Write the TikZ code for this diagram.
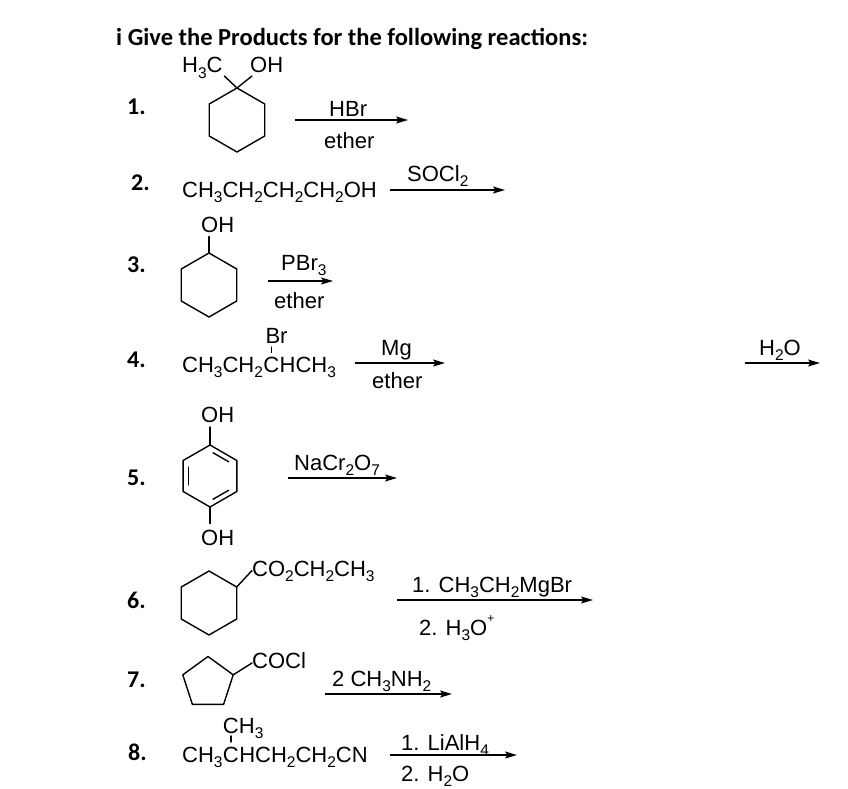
\documentclass[tikz,border=0pt]{standalone}
\usepackage{fontspec}
\setmainfont{Liberation Sans}
\newfontfamily\numfont{Carlito}
\usetikzlibrary{arrows.meta}
\newcommand\sbs[1]{\raisebox{-0.25em}{\fontsize{15.5}{15.5}\selectfont #1}}
\newcommand\sps[1]{\raisebox{0.55em}{\fontsize{12}{12}\selectfont #1}}
\tikzset{
  chem/.style={font=\fontsize{22}{24}\selectfont, inner sep=0pt, anchor=base west},
  num/.style={font=\numfont\bfseries\fontsize{24}{26}\selectfont, inner sep=0pt, anchor=base west},
  ttl/.style={font=\numfont\bfseries\fontsize{24.5}{26}\selectfont, inner sep=0pt, anchor=base west},
  bond/.style={line width=1.4pt, line join=round, line cap=round},
  rxn/.style={line width=1.6pt, -{Stealth[length=12pt,width=7pt,inset=2.5pt]}}
}
\begin{document}
\begin{tikzpicture}[x=1pt,y=-1pt]
\useasboundingbox (0,0) rectangle (848,789);
\fill[white] (0,0) rectangle (848,789);

% title
\node[ttl] (title) at (116,46) {i Give the Products for the following reactions:};

% numbers
\node[num] (n1) at (127,115) {1.};
\node[num] (n2) at (131,190) {2.};
\node[num] (n3) at (127,272) {3.};
\node[num] (n4) at (127,367) {4.};
\node[num] (n5) at (127,485) {5.};
\node[num] (n6) at (127,608) {6.};
\node[num] (n7) at (127,687) {7.};
\node[num] (n8) at (128,760) {8.};

% ---------- 1 ----------
\begin{scope}[shift={(237,120)}]
  \draw[bond] (-90:32)--(-30:32)--(30:32)--(90:32)--(150:32)--(210:32)--cycle;
  \coordinate (r1top) at (-90:32);
\end{scope}
\node[chem] (h3c) at (182,73) {H\sbs{3}C};
\node[chem] (oh1) at (250,73) {OH};
\coordinate (h3cb) at ([xshift=1.5pt,yshift=-3pt]h3c.base east);
\coordinate (oh1b) at ([xshift=2pt,yshift=-3pt]oh1.base west);
\draw[bond] (r1top) -- (h3cb);
\draw[bond] (r1top) -- (oh1b);
\coordinate (a1s) at (295,120);
\coordinate (a1e) at (408,120);
\draw[rxn] (a1s) -- (a1e);
\node[chem] (hbr) at (329,117) {HBr};
\node[chem] (eth1) at (324,148) {ether};

% ---------- 2 ----------
\node[chem] (c2) at (182,197) {CH\sbs3CH\sbs2CH\sbs2CH\sbs2OH};
\coordinate (a2s) at (390,190);
\coordinate (a2e) at (505,190);
\draw[rxn] (a2s) -- (a2e);
\node[chem] (socl) at (407,181) {SOCl\sbs2};

% ---------- 3 ----------
\begin{scope}[shift={(209,285)}]
  \draw[bond] (-90:32)--(-30:32)--(30:32)--(90:32)--(150:32)--(210:32)--cycle;
  \coordinate (r3top) at (-90:32);
\end{scope}
\node[chem] (oh3) at (201,232) {OH};
\coordinate (oh3b) at ([yshift=-4.5pt]oh3.base);
\draw[bond] (r3top) -- (r3top |- oh3b);
\coordinate (a3s) at (268,281);
\coordinate (a3e) at (333,281);
\draw[rxn] (a3s) -- (a3e);
\node[chem] (pbr) at (281,270) {PBr\sbs3};
\node[chem] (eth3) at (274,308) {ether};

% ---------- 4 ----------
\node[chem] (c4a) at (182,372) {CH\sbs3CH\sbs2};
\node[chem] (c4b) at (c4a.base east) {C};
\node[chem] (c4c) at (c4b.base east) {HCH\sbs3};
\node[chem] (br4) at ([xshift=-6pt,yshift=29pt]c4b.base) {Br};
\coordinate (b4lo) at ([yshift=4pt]c4b.north);
\coordinate (b4hi) at ([yshift=-4pt]br4.base);
\draw[bond] (b4lo) -- (b4lo |- b4hi);
\coordinate (a4s) at (355,363);
\coordinate (a4e) at (445,363);
\draw[rxn] (a4s) -- (a4e);
\node[chem] (mg) at (381,355) {Mg};
\node[chem] (eth4) at (372,388) {ether};
\coordinate (a4bs) at (745,363);
\coordinate (a4be) at (820,363);
\draw[rxn] (a4bs) -- (a4be);
\node[chem] (h2o4) at (759,355) {H\sbs2O};

% ---------- 5 ----------
\begin{scope}[shift={(210,476)}]
  \draw[bond] (-90:31)--(-30:31)--(30:31)--(90:31)--(150:31)--(210:31)--cycle;
  \draw[bond,shorten <=3.5pt,shorten >=3.5pt] (-90:25) -- (-30:25);
  \draw[bond,shorten <=3.5pt,shorten >=3.5pt] (30:25) -- (90:25);
  \draw[bond,shorten <=3.5pt,shorten >=3.5pt] (150:25) -- (210:25);
  \coordinate (r5top) at (-90:31);
  \coordinate (r5bot) at (90:31);
\end{scope}
\node[chem] (oh5a) at (201,422) {OH};
\node[chem] (oh5b) at (201,545) {OH};
\coordinate (oh5at) at ([yshift=-5pt]oh5a.base);
\coordinate (oh5bt) at ([yshift=6pt]oh5b.north);
\draw[bond] (r5top) -- (r5top |- oh5at);
\draw[bond] (r5bot) -- (r5bot |- oh5bt);
\coordinate (a5s) at (288,478);
\coordinate (a5e) at (397,478);
\draw[rxn] (a5s) -- (a5e);
\node[chem] (nacr) at (294,470) {NaCr\sbs2O\sbs7};

% ---------- 6 ----------
\begin{scope}[shift={(209,603)}]
  \draw[bond] (-90:32)--(-30:32)--(30:32)--(90:32)--(150:32)--(210:32)--cycle;
  \coordinate (r6ur) at (-30:32);
\end{scope}
\node[chem] (co2) at (252,576) {CO\sbs2CH\sbs2CH\sbs3};
\coordinate (co2b) at ([yshift=5.5pt]co2.base west);
\draw[bond] (r6ur) -- (co2b);
\coordinate (a6s) at (397,600);
\coordinate (a6e) at (593,600);
\draw[rxn] (a6s) -- (a6e);
\node[chem] (grig) at (412,592) {1. CH\sbs3CH\sbs2MgBr};
\node[chem] (h3o) at (419,635) {2. H\sbs3O\sps{+}};

% ---------- 7 ----------
\begin{scope}[shift={(208,683)}]
  \draw[bond] (-90:26.5)--(-18:26.5)--(54:26.5)--(126:26.5)--(198:26.5)--cycle;
  \coordinate (r7r) at (-18:26.5);
\end{scope}
\node[chem] (cocl) at (252,668) {COCl};
\coordinate (coclb) at ([yshift=5pt]cocl.base west);
\draw[bond] (r7r) -- (coclb);
\coordinate (a7s) at (325,694);
\coordinate (a7e) at (452,694);
\draw[rxn] (a7s) -- (a7e);
\node[chem] (amine) at (332,686) {2 CH\sbs3NH\sbs2};

% ---------- 8 ----------
\node[chem] (c8a) at (182,762) {CH\sbs3};
\node[chem] (c8b) at (c8a.base east) {C};
\node[chem] (c8c) at (c8b.base east) {HCH\sbs2CH\sbs2CN};
\node[chem] (ch3t) at ([yshift=29pt]c8b.base west) {CH\sbs3};
\coordinate (b8lo) at ([yshift=4.5pt]c8b.north);
\coordinate (b8hi) at ([yshift=-3pt]ch3t.base);
\draw[bond] (b8lo) -- (b8lo |- b8hi);
\coordinate (a8s) at (390,755);
\coordinate (a8e) at (517,755);
\draw[rxn] (a8s) -- (a8e);
\node[chem] (lah) at (401,750) {1. LiAlH\sbs4};
\node[chem] (h2o8) at (401,781) {2. H\sbs2O};
\end{tikzpicture}
\end{document}
